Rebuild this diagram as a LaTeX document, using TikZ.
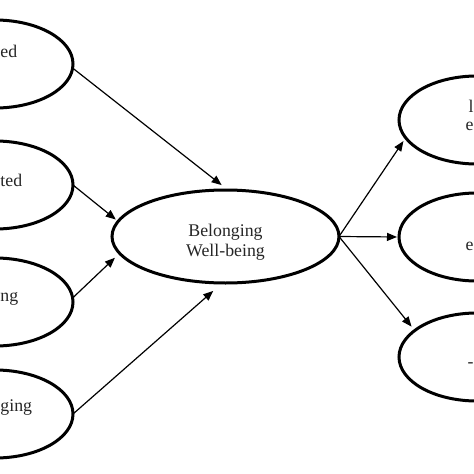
\documentclass[tikz,border=0pt]{standalone}
\usepackage{fontspec}
\setmainfont{Liberation Serif}
\usetikzlibrary{shapes.geometric,arrows.meta}
\tikzset{
  ell/.style={ellipse, draw=black, line width=3pt, inner sep=0pt, outer sep=0pt,
    minimum width=156pt, minimum height=88pt},
  bigell/.style={ellipse, draw=black, line width=3pt, inner sep=0pt, outer sep=0pt,
    minimum width=227pt, minimum height=93pt},
  txt/.style={font=\fontsize{17.8}{20}\selectfont, inner sep=0pt, outer sep=0pt, text=black!85},
  conn/.style={line width=1.2pt, -{Triangle[length=10pt,width=8pt]}}
}
\begin{document}
\begin{tikzpicture}[x=1pt,y=-1pt]
\useasboundingbox (0,0) rectangle (474,474);
\fill[white] (0,0) rectangle (474,474);
\clip (0,0) rectangle (474,474);
% left ellipses
\node[ell] (L1) at (-5,64) {};
\node[ell] (L2) at (-5,185) {};
\node[ell] (L3) at (-5,302) {};
\node[ell] (L4) at (-5,414) {};
% centre
\node[bigell] (bel) at (225.5,236.5) {};
\node[txt, align=center] (beltext) at (225.5,242) {Belonging\\Well-being};
% right ellipses
\node[ell] (R1) at (477,120) {};
\node[ell] (R2) at (477,237) {};
\node[ell] (R3) at (477,357) {};
% text fragments
\node[txt, anchor=base west] (t1) at (0.5,57) {ed};
\node[txt, anchor=base west] (t2) at (0.5,186) {ted};
\node[txt, anchor=base west] (t3) at (0.5,301) {ng};
\node[txt, anchor=base west] (t4) at (0.5,411) {ging};
\node[txt, anchor=base east] (r1a) at (473.5,112) {l};
\node[txt, anchor=base east] (r1b) at (473.5,130) {e};
\node[txt, anchor=base east] (r2) at (473.5,250) {e};
\node[txt, anchor=base east] (r3) at (473.5,367.5) {-};
% connectors
\draw[conn, shorten >=8pt] (L1.-3) -- (bel.87);
\draw[conn, shorten >=3pt] (L2.0) -- (bel.172);
\draw[conn, shorten >=6.5pt] (L3.3) -- (bel.189);
\draw[conn, shorten >=12pt] (L4.0) -- (bel.266);
\draw[conn, shorten >=4pt] (bel.east) -- (R1.194);
\draw[conn, shorten >=2pt] (bel.east) -- (R2.west);
\draw[conn, shorten >=5pt] (bel.east) -- (R3.157.5);
\end{tikzpicture}
\end{document}
